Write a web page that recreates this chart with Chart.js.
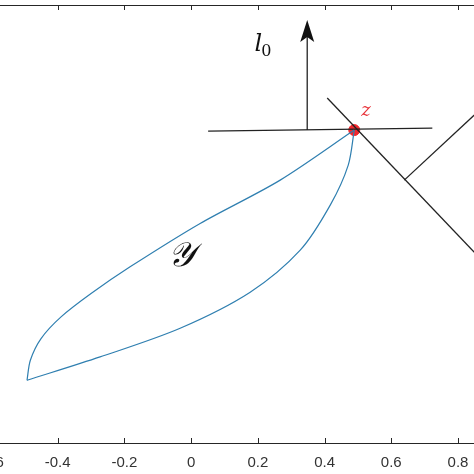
<!DOCTYPE html>
<html><head><meta charset="utf-8">
<script src="https://cdn.jsdelivr.net/npm/chart.js@4"></script>
<style>html,body{margin:0;padding:0;background:#fff}#w{width:474px;height:474px}</style>
</head><body><div id="w"><canvas id="c"></canvas></div>
<script>
const tickValues=[-0.6,-0.4,-0.2,0,0.2,0.4,0.6,0.8];
const tickLabels=['-0.6','-0.4','-0.2','0','0.2','0.4','0.6','0.8'];
const upperX=[-0.492,-0.482,-0.450,-0.390,-0.300,-0.183,0.027,0.267,0.489];
const upperY=[-0.250,-0.190,-0.125,-0.060,0.010,0.090,0.220,0.350,0.500];
const lowerX=[-0.492,-0.273,-0.033,0.177,0.327,0.417,0.471,0.489];
const lowerY=[-0.250,-0.180,-0.094,0.014,0.140,0.275,0.395,0.500];
const hLineX=[0.051,0.723], hLineY=[0.497,0.506];
const arrowX=[0.348,0.348], arrowY=[0.5,0.80];
const diagX=[0.408,0.849], diagY=[0.596,0.134];
const perpX=[0.639,0.849], perpY=[0.35,0.545];
const zX=[0.489], zY=[0.5];
const pts=(xs,ys)=>xs.map((x,i)=>({x,y:ys[i]}));
const line=(d,c,w)=>({data:d,showLine:true,borderColor:c,borderWidth:w,pointRadius:0,tension:0.3,fill:false});
const deco={id:'deco',afterDraw(ch){
 const c=ch.ctx,xs=ch.scales.x,ys=ch.scales.y,a=ch.chartArea;
 c.save();c.strokeStyle='#262626';c.lineWidth=1;
 c.beginPath();c.moveTo(0,a.bottom+0.5);c.lineTo(474,a.bottom+0.5);c.moveTo(0,a.top+0.5);c.lineTo(474,a.top+0.5);
 tickValues.forEach(v=>{const p=Math.round(xs.getPixelForValue(v))+0.5;c.moveTo(p,a.bottom);c.lineTo(p,a.bottom-5);c.moveTo(p,a.top);c.lineTo(p,a.top+5);});
 c.stroke();
 c.fillStyle='#333';c.font='15px Helvetica, Arial, "Liberation Sans"';c.textAlign='center';c.textBaseline='middle';
 tickValues.forEach((v,i)=>c.fillText(tickLabels[i],xs.getPixelForValue(v),a.bottom+20));
 const ax=xs.getPixelForValue(arrowX[1]),ay=ys.getPixelForValue(arrowY[1]);
 c.fillStyle='#111';c.beginPath();c.moveTo(ax,ay-10);c.lineTo(ax-7,ay+12);c.lineTo(ax,ay+7);c.lineTo(ax+7,ay+12);c.closePath();c.fill();
 c.font='italic 24px "DejaVu Serif", serif';c.fillStyle='#111';c.textAlign='left';
 c.fillText('l',xs.getPixelForValue(0.19),ys.getPixelForValue(0.755));
 c.font='16px "DejaVu Serif", serif';c.fillText('0',xs.getPixelForValue(0.21),ys.getPixelForValue(0.735));
 c.fillStyle='#e8333a';c.font='italic 18px "DejaVu Serif", serif';c.fillText('z',xs.getPixelForValue(0.51),ys.getPixelForValue(0.555));
 c.fillStyle='#111';c.font='italic 34px "DejaVu Serif", serif';c.textAlign='center';c.fillText('𝒴',xs.getPixelForValue(-0.03),ys.getPixelForValue(0.12));
 c.restore();}};
new Chart(document.getElementById('c'),{type:'scatter',
 data:{datasets:[
  line(pts(upperX,upperY),'#2f7fb0',1.2),
  line(pts(lowerX,lowerY),'#2f7fb0',1.2),
  {...line(pts(hLineX,hLineY),'#222',1.3),tension:0},
  {...line(pts(arrowX,arrowY),'#222',1.3),tension:0},
  {...line(pts(diagX,diagY),'#222',1.3),tension:0},
  {...line(pts(perpX,perpY),'#222',1.3),tension:0},
  {data:pts(zX,zY),pointRadius:5.5,pointBackgroundColor:'#f0282e',pointBorderColor:'#f0282e',showLine:false}
 ]},
 options:{responsive:true,maintainAspectRatio:false,animation:false,
  layout:{autoPadding:false,padding:{top:5,bottom:31,left:0,right:0}},
  plugins:{legend:{display:false},tooltip:{enabled:false}},
  scales:{x:{type:'linear',display:false,min:-0.573,max:0.848},y:{type:'linear',display:false,min:-0.438,max:0.875}}},
 plugins:[deco]});
</script></body></html>
